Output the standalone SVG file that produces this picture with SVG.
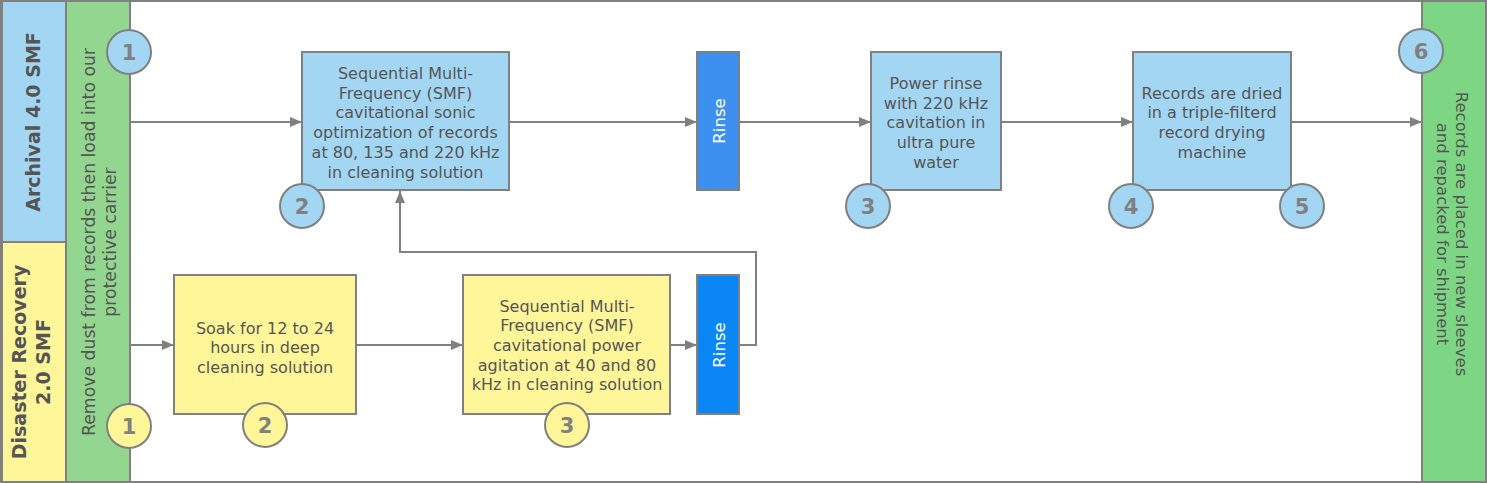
<svg xmlns="http://www.w3.org/2000/svg" width="1487" height="483" viewBox="0 0 1487 483">
<defs>
<marker id="ah" markerWidth="12" markerHeight="10" refX="12" refY="5" orient="auto" markerUnits="userSpaceOnUse">
<path d="M0,0 L12,5 L0,10 Z" fill="#808080"/>
</marker>
<style>
.lane{stroke:#808080;stroke-width:2}
.box{stroke:#808080;stroke-width:2}
.blue{fill:#a3d6f2}
.yel{fill:#fff599}
.grn{fill:#92d68f}
.grn2{fill:#7dd683}
.t{font-family:"DejaVu Sans","Noto Sans",sans-serif;font-size:16px;fill:#555555;text-anchor:middle}
.lbl{font-family:"DejaVu Sans",sans-serif;font-size:19px;font-weight:bold;fill:#555555;text-anchor:middle}
.rin{font-family:"DejaVu Sans",sans-serif;font-size:16.5px;fill:#ffffff;text-anchor:middle}
.num{font-family:"DejaVu Sans",sans-serif;font-size:21px;font-weight:bold;fill:#808080;text-anchor:middle}
.c{stroke:#808080;stroke-width:2}
.conn{stroke:#808080;stroke-width:2;fill:none;marker-end:url(#ah)}
</style>
</defs>
<rect x="0" y="0" width="1487" height="483" fill="#ffffff"/>
<g id="lanes">
<rect class="lane" x="1" y="1" width="1485" height="481" fill="#ffffff"/>
<rect class="lane blue" x="2" y="1" width="64" height="241"/>
<rect class="lane yel" x="2" y="242" width="64" height="240"/>
<text class="lbl" transform="translate(39.5,122) rotate(-90)">Archival 4.0 SMF</text>
<text class="lbl" transform="translate(26,362) rotate(-90)">Disaster Recovery</text>
<text class="lbl" transform="translate(50,362) rotate(-90)">2.0 SMF</text>
</g>
<g id="start">
<rect class="lane grn" x="66" y="1" width="64" height="481"/>
<text class="t" style="font-size:17.25px" transform="translate(95,242) rotate(-90)">Remove dust from records then load into our</text>
<text class="t" style="font-size:17.25px" transform="translate(116,242) rotate(-90)">protective carrier</text>
</g>
<g id="end">
<rect class="lane grn2" x="1422" y="1" width="64" height="481"/>
<text class="t" style="font-size:16.5px" transform="translate(1456,234) rotate(90)">Records are placed in new sleeves</text>
<text class="t" style="font-size:16.5px" transform="translate(1437,234) rotate(90)">and repacked for shipment</text>
</g>
<g id="connectors">
<path class="conn" d="M130,122 L302,122"/>
<path class="conn" d="M509,122 L697,122"/>
<path class="conn" d="M739,122 L871,122"/>
<path class="conn" d="M1001,122 L1133,122"/>
<path class="conn" d="M1291,122 L1422,122"/>
<path class="conn" d="M130,345 L174,345"/>
<path class="conn" d="M356,345 L463,345"/>
<path class="conn" d="M670,345 L697,345"/>
<path class="conn" d="M739,345 L756,345 L756,252 L400,252 L400,191"/>
</g>
<g id="n1a">
<circle class="c blue" cx="129" cy="52" r="22"/>
<text class="num" x="129" y="59.5">1</text>
</g>
<g id="n1b">
<circle class="c yel" cx="129" cy="426" r="22"/>
<text class="num" x="129" y="433.5">1</text>
</g>
<g id="a2">
<rect class="box blue" x="302" y="52" width="207" height="138"/>
<text class="t" x="405.5" y="79">Sequential Multi-</text>
<text class="t" x="405.5" y="98.7">Frequency (SMF)</text>
<text class="t" x="405.5" y="118.4">cavitational sonic</text>
<text class="t" x="405.5" y="138.1">optimization of records</text>
<text class="t" x="405.5" y="157.8">at 80, 135 and 220 kHz</text>
<text class="t" x="405.5" y="177.5">in cleaning solution</text>
<circle class="c blue" cx="302" cy="206" r="22"/>
<text class="num" x="302" y="213.5">2</text>
</g>
<g id="rinseA">
<rect class="box" x="697" y="52" width="42" height="138" fill="#3d8ff0"/>
<text class="rin" transform="translate(724.5,121) rotate(-90)">Rinse</text>
</g>
<g id="a3">
<rect class="box blue" x="871" y="52" width="130" height="138"/>
<text class="t" x="936" y="89">Power rinse</text>
<text class="t" x="936" y="108.7">with 220 kHz</text>
<text class="t" x="936" y="128.4">cavitation in</text>
<text class="t" x="936" y="148.1">ultra pure</text>
<text class="t" x="936" y="167.8">water</text>
<circle class="c blue" cx="868" cy="206" r="22"/>
<text class="num" x="868" y="213.5">3</text>
</g>
<g id="a4">
<rect class="box blue" x="1133" y="52" width="158" height="138"/>
<text class="t" x="1212" y="98.5">Records are dried</text>
<text class="t" x="1212" y="118.2">in a triple-filterd</text>
<text class="t" x="1212" y="137.9">record drying</text>
<text class="t" x="1212" y="157.6">machine</text>
<circle class="c blue" cx="1131" cy="206" r="22"/>
<text class="num" x="1131" y="213.5">4</text>
<circle class="c blue" cx="1302" cy="206" r="22"/>
<text class="num" x="1302" y="213.5">5</text>
</g>
<g id="n6">
<circle class="c blue" cx="1421" cy="51" r="22"/>
<text class="num" x="1421" y="58.5">6</text>
</g>
<g id="d2">
<rect class="box yel" x="174" y="275" width="182" height="139"/>
<text class="t" x="265" y="333.5">Soak for 12 to 24</text>
<text class="t" x="265" y="353.2">hours in deep</text>
<text class="t" x="265" y="372.9">cleaning solution</text>
<circle class="c yel" cx="265" cy="425" r="22"/>
<text class="num" x="265" y="432.5">2</text>
</g>
<g id="d3">
<rect class="box yel" x="463" y="275" width="207" height="139"/>
<text class="t" x="567" y="311.5">Sequential Multi-</text>
<text class="t" x="567" y="331.2">Frequency (SMF)</text>
<text class="t" x="567" y="350.9">cavitational power</text>
<text class="t" x="567" y="370.6">agitation at 40 and 80</text>
<text class="t" x="567" y="390.3">kHz in cleaning solution</text>
<circle class="c yel" cx="567" cy="425" r="22"/>
<text class="num" x="567" y="432.5">3</text>
</g>
<g id="rinseB">
<rect class="box" x="697" y="275" width="42" height="139" fill="#0a86f5"/>
<text class="rin" transform="translate(724.5,345) rotate(-90)">Rinse</text>
</g>
</svg>
